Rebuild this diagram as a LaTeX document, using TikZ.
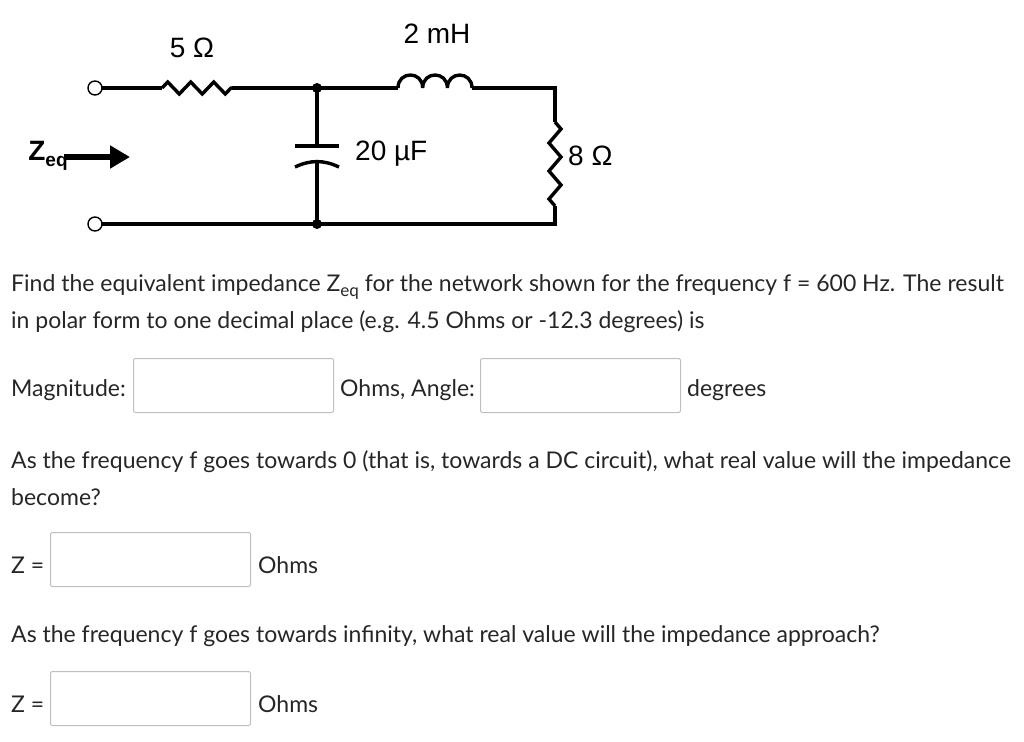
\documentclass[tikz,border=0pt]{standalone}
\usepackage{fontspec}
\setmainfont{Lato}
\newfontfamily\cfont{Liberation Sans}
\usetikzlibrary{decorations.pathmorphing,arrows.meta}
\begin{document}
\begin{tikzpicture}[x=1pt,y=-1pt,
  wire/.style={line width=3.4pt},
  txt/.style={anchor=west,inner sep=0pt,font=\fontsize{23}{27}\selectfont,text=black!85},
  clab/.style={inner sep=0pt,font=\cfont\fontsize{28}{30}\selectfont},
  ans/.style={draw=black!25,line width=1pt,rounded corners=2pt,minimum width=200pt,minimum height=54pt,anchor=north west,inner sep=0pt},
  term/.style={circle,draw,line width=1.4pt,fill=white,minimum size=14pt,inner sep=0pt},
  dotj/.style={circle,fill,minimum size=10pt,inner sep=0pt}]
\useasboundingbox (0,0) rectangle (1024,741);
% circuit
\coordinate (t1) at (95,88);
\coordinate (b1) at (95,224);
\coordinate (r1a) at (162,88);
\coordinate (r1b) at (232,88);
\coordinate (j1) at (317,88);
\coordinate (j2) at (317,224);
\coordinate (l1a) at (398,88);
\coordinate (l1b) at (472,88);
\coordinate (c1) at (555,88);
\coordinate (r2a) at (555,122);
\coordinate (r2b) at (555,206);
\coordinate (c2) at (555,224);
\coordinate (cp1) at (317,146);
\coordinate (cp2) at (317,162);
\draw[wire] (t1) -- (r1a);
\draw[wire,decorate,decoration={zigzag,segment length=23pt,amplitude=6pt}] (r1a) -- (r1b);
\draw[wire] (r1b) -- (l1a);
\draw[wire] (l1a) to[out=90,in=90,looseness=1.8] ++(24.7,0) to[out=90,in=90,looseness=1.8] ++(24.7,0) to[out=90,in=90,looseness=1.8] (l1b);
\draw[wire] (l1b) -- (c1) -- (r2a);
\draw[wire,decorate,decoration={zigzag,segment length=28pt,amplitude=6pt}] (r2a) -- (r2b);
\draw[wire] (r2b) -- (c2) -- (b1);
\draw[wire] (j1) -- (cp1);
\draw[wire] (295,146) -- (339,146);
\draw[wire] (295,167) to[bend left=25] (339,167);
\draw[wire] (cp2) -- (j2);
\node[dotj] (d1) at (j1) {};
\node[dotj] (d2) at (j2) {};
\node[term] (T1) at (t1) {};
\node[term] (T2) at (b1) {};
\node[clab] (l5) at (192,48) {5 Ω};
\node[clab] (l2) at (437,34) {2 mH};
\node[clab,anchor=west] (l20) at (355,154) {20 µF};
\node[clab,anchor=west] (l8) at (568,156) {8 Ω};
\node[inner sep=0pt,font=\cfont\bfseries\fontsize{28}{30}\selectfont] (zq) at (48,156) {Z\raisebox{-0.4ex}{\fontsize{19}{20}\selectfont eq}};
\draw[-{Triangle[length=20pt,width=22pt]},line width=6pt] (zq.east) ++(-4,1) -- (130,157);
% text
\node[txt] (p1) at (11,287) {Find the equivalent impedance Z\raisebox{-0.5ex}{\fontsize{17}{19}\selectfont eq} for the network shown for the frequency f = 600 Hz. The result};
\node[txt] (p2) at (11,322) {in polar form to one decimal place (e.g. 4.5 Ohms or -12.3 degrees) is};
\node[txt] (m) at (11,390) {Magnitude:};
\node[ans] (bx1) at (133,358) {};
\node[txt] (oa) at (340,390) {Ohms, Angle:};
\node[ans] (bx2) at (480,358) {};
\node[txt] (dg) at (687,390) {degrees};
\node[txt] (q2a) at (11,462) {As the frequency f goes towards 0 (that is, towards a DC circuit), what real value will the impedance};
\node[txt] (q2b) at (11,497) {become?};
\node[txt] (z1) at (11,565) {Z =};
\node[ans] (bx3) at (50,532) {};
\node[txt] (o1) at (258,565) {Ohms};
\node[txt] (q3) at (11,636) {As the frequency f goes towards infinity, what real value will the impedance approach?};
\node[txt] (z2) at (11,704) {Z =};
\node[ans] (bx4) at (50,671) {};
\node[txt] (o2) at (258,704) {Ohms};
\end{tikzpicture}
\end{document}
